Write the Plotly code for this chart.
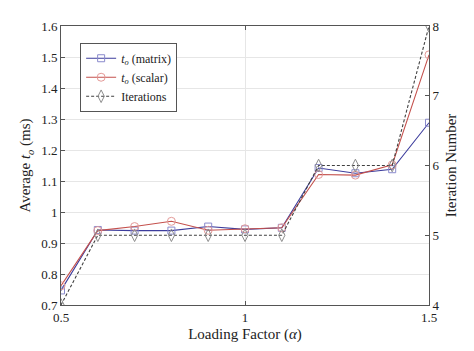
import plotly.graph_objects as go

loading = [0.5, 0.6, 0.7, 0.8, 0.9, 1.0, 1.1, 1.2, 1.3, 1.4, 1.5]
t_matrix = [0.747, 0.942, 0.940, 0.940, 0.953, 0.944, 0.949, 1.142, 1.125, 1.138, 1.288]
t_scalar = [0.762, 0.940, 0.953, 0.970, 0.941, 0.946, 0.949, 1.121, 1.119, 1.152, 1.507]
iterations = [4, 5, 5, 5, 5, 5, 5, 6, 6, 6, 8]

FONT = "Times New Roman, Liberation Serif, DejaVu Serif, serif"

fig = go.Figure()
fig.add_trace(go.Scatter(
    x=loading, y=t_matrix, mode="lines+markers",
    name="<i>t</i><sub><i>o</i></sub> (matrix)",
    line=dict(color="#3c3c9c", width=1.1),
    marker=dict(symbol="square-open", size=7, color="#8a8acc", line=dict(width=1)),
))
fig.add_trace(go.Scatter(
    x=loading, y=t_scalar, mode="lines+markers",
    name="<i>t</i><sub><i>o</i></sub> (scalar)",
    line=dict(color="#c4504c", width=1.1),
    marker=dict(symbol="circle-open", size=8, color="#e49a98", line=dict(width=1)),
))
fig.add_trace(go.Scatter(
    x=loading, y=iterations, mode="lines+markers", yaxis="y2",
    name="Iterations",
    line=dict(color="#404040", width=1.1, dash="3px,2px"),
    marker=dict(symbol="diamond-tall-open", size=9, color="#8c8c8c", line=dict(width=1)),
))

axis_common = dict(
    showline=True, linecolor="#555555", linewidth=1,
    ticks="inside", ticklen=4, tickcolor="#555555",
    tickfont=dict(family=FONT, size=13, color="#222222"),
    zeroline=False,
)

fig.update_layout(
    width=474, height=351,
    margin=dict(l=61, r=45, t=26, b=39),
    paper_bgcolor="white", plot_bgcolor="white",
    font=dict(family=FONT, color="#222222"),
    xaxis=dict(
        range=[0.5, 1.5], tickvals=[0.5, 1, 1.5], ticktext=["0.5", "1", "1.5"],
        mirror="ticks", showgrid=True, gridcolor="#e6e6e6",
        title=dict(text="Loading Factor (<i>α</i>)", font=dict(family=FONT, size=15), standoff=4),
        **axis_common,
    ),
    yaxis=dict(
        range=[0.7, 1.6], tickvals=[0.7, 0.8, 0.9, 1.0, 1.1, 1.2, 1.3, 1.4, 1.5, 1.6],
        ticktext=["0.7", "0.8", "0.9", "1", "1.1", "1.2", "1.3", "1.4", "1.5", "1.6"],
        mirror=True, showgrid=True, gridcolor="#e6e6e6",
        title=dict(text="Average <i>t</i><sub><i>o</i></sub> (ms)", font=dict(family=FONT, size=15), standoff=6),
        **axis_common,
    ),
    yaxis2=dict(
        range=[4, 8], tickvals=[4, 5, 6, 7, 8], overlaying="y", side="right",
        showgrid=False,
        title=dict(text="Iteration Number", font=dict(family=FONT, size=15), standoff=6),
        **axis_common,
    ),
    legend=dict(
        x=0.052, y=0.94, xanchor="left", yanchor="top",
        bgcolor="white", bordercolor="#555555", borderwidth=1,
        font=dict(family=FONT, size=12), tracegroupgap=0,
        itemwidth=30,
    ),
    showlegend=True,
)

fig.write_html("out.html")
